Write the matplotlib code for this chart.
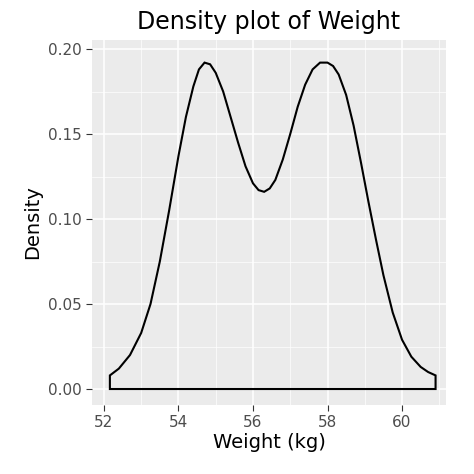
import matplotlib
matplotlib.use("Agg")
from matplotlib import pyplot as plt
from matplotlib.ticker import MultipleLocator, FormatStrFormatter

# density curve
weight = [52.16, 52.4, 52.7, 53.0, 53.25, 53.5, 53.75, 54.0, 54.2, 54.4, 54.55, 54.7,
          54.85, 55.0, 55.2, 55.4, 55.6, 55.8, 56.0, 56.15, 56.3, 56.45, 56.6, 56.8,
          57.0, 57.2, 57.4, 57.6, 57.8, 58.0, 58.15, 58.3, 58.5, 58.7, 58.9, 59.1,
          59.3, 59.5, 59.75, 60.0, 60.25, 60.5, 60.7, 60.9]
density = [0.008, 0.012, 0.02, 0.033, 0.05, 0.075, 0.105, 0.137, 0.16, 0.178, 0.188, 0.192,
           0.191, 0.186, 0.175, 0.16, 0.145, 0.131, 0.121, 0.117, 0.116, 0.118, 0.123, 0.135,
           0.15, 0.166, 0.179, 0.188, 0.192, 0.192, 0.19, 0.185, 0.173, 0.155, 0.133, 0.11,
           0.088, 0.067, 0.045, 0.029, 0.019, 0.013, 0.01, 0.008]

fig = plt.figure(figsize=(4.74, 4.74), dpi=100)
ax = fig.add_axes([92 / 474, 1 - 405 / 474, (446 - 92) / 474, (405 - 40) / 474])
ax.set_facecolor("#EBEBEB")
for s in ax.spines.values():
    s.set_visible(False)

xs = [weight[0]] + weight + [weight[-1]]
ys = [0] + density + [0]
ax.fill(xs, ys, fill=False, edgecolor="black", linewidth=1.5, closed=True)

ax.set_xlim(51.68, 61.18)
ax.set_ylim(-0.0094, 0.2053)
ax.xaxis.set_major_locator(MultipleLocator(2))
ax.xaxis.set_minor_locator(MultipleLocator(1))
ax.yaxis.set_major_locator(MultipleLocator(0.05))
ax.yaxis.set_minor_locator(MultipleLocator(0.025))
ax.yaxis.set_major_formatter(FormatStrFormatter("%.2f"))
ax.grid(True, which="major", color="white", linewidth=1.1)
ax.grid(True, which="minor", color="white", linewidth=0.5)
ax.set_axisbelow(True)
ax.tick_params(which="major", length=4, color="#333333", labelsize=11, labelcolor="#4D4D4D")
ax.tick_params(which="minor", length=0)

ax.set_xlabel("Weight (kg)", fontsize=14, labelpad=2)
ax.set_ylabel("Density", fontsize=14)
ax.set_title("Density plot of Weight", fontsize=17, pad=8)
fig.savefig("out.png", dpi=100)
